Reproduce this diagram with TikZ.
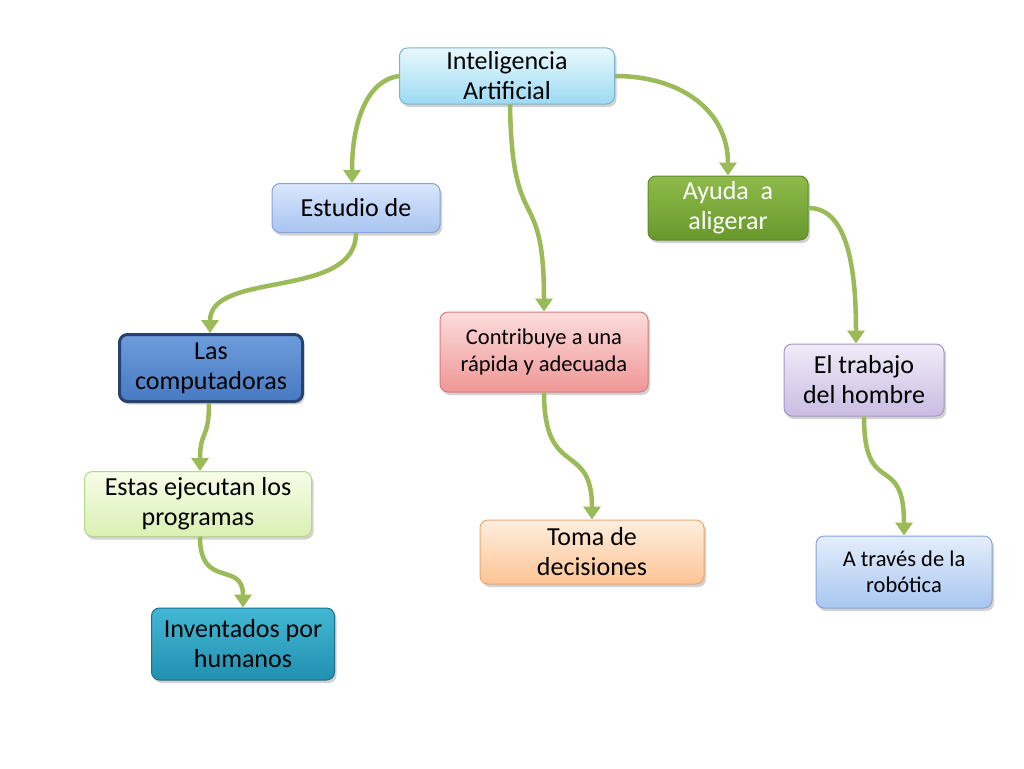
\documentclass[tikz,border=0pt]{standalone}
\usepackage{fontspec}
\setmainfont{Carlito}
\usetikzlibrary{arrows.meta,shadows}
\definecolor{conn}{HTML}{9BBB59}
\begin{document}
\begin{tikzpicture}[x=1pt,y=-1pt,
  box/.style={rounded corners=8pt, draw, line width=1pt, align=center, inner sep=0pt,
    drop shadow={opacity=0.35, shadow xshift=2pt, shadow yshift=-3pt},
    font=\fontsize{26}{30}\selectfont},
  smalltext/.style={font=\fontsize{22.5}{26.5}\selectfont},
  link/.style={draw=conn, line width=4.5pt, -{Triangle[width=17pt,length=13pt]}, fill=none}
]
\fill[white] (0,0) rectangle (1024,768);
\useasboundingbox (0,0) rectangle (1024,768);

\node[box, minimum width=215pt, minimum height=56pt, top color={rgb,255:red,232;green,249;blue,254}, bottom color={rgb,255:red,156;green,218;blue,244}, draw={rgb,255:red,120;green,180;blue,205}] (ia) at (507,76) {Inteligencia\\Artificial};

\node[box, minimum width=168pt, minimum height=49pt, top color={rgb,255:red,218;green,230;blue,252}, bottom color={rgb,255:red,168;green,196;blue,242}, draw={rgb,255:red,135;green,165;blue,215}] (est) at (356,208) {Estudio de};

\node[box, minimum width=160pt, minimum height=64pt, top color={rgb,255:red,142;green,186;blue,74}, bottom color={rgb,255:red,104;green,152;blue,44}, draw={rgb,255:red,94;green,138;blue,40}, text=white] (ayu) at (728,208) {Ayuda\ \ a\\aligerar};

\node[box, smalltext, minimum width=208pt, minimum height=80pt, top color={rgb,255:red,252;green,220;blue,220}, bottom color={rgb,255:red,240;green,150;blue,150}, draw={rgb,255:red,215;green,125;blue,125}] (con) at (544,352) {Contribuye a una\\rápida y adecuada};

\node[box, minimum width=183pt, minimum height=67pt, top color={rgb,255:red,108;green,156;blue,218}, bottom color={rgb,255:red,72;green,122;blue,194}, draw={rgb,255:red,40;green,66;blue,112}, line width=3pt] (com) at (211,368) {Las\\computadoras};

\node[box, minimum width=160pt, minimum height=72pt, top color={rgb,255:red,240;green,235;blue,248}, bottom color={rgb,255:red,202;green,188;blue,226}, draw={rgb,255:red,165;green,150;blue,200}] (tra) at (864,380) {El trabajo\\del hombre};

\node[box, minimum width=227pt, minimum height=65pt, top color={rgb,255:red,247;green,252;blue,232}, bottom color={rgb,255:red,218;green,240;blue,178}, draw={rgb,255:red,182;green,214;blue,142}] (est2) at (198,504) {Estas ejecutan los\\programas};

\node[box, minimum width=224pt, minimum height=64pt, top color={rgb,255:red,255;green,238;blue,222}, bottom color={rgb,255:red,253;green,196;blue,148}, draw={rgb,255:red,232;green,168;blue,112}] (tom) at (592,552) {Toma de\\decisiones};

\node[box, smalltext, minimum width=176pt, minimum height=72pt, top color={rgb,255:red,228;green,238;blue,252}, bottom color={rgb,255:red,168;green,198;blue,240}, draw={rgb,255:red,135;green,165;blue,215}] (rob) at (904,572) {A través de la\\robótica};

\node[box, minimum width=183pt, minimum height=72pt, top color={rgb,255:red,66;green,184;blue,212}, bottom color={rgb,255:red,34;green,144;blue,176}, draw={rgb,255:red,30;green,110;blue,140}] (inv) at (243,644) {Inventados por\\humanos};

\path[link] (ia.west) .. controls (368,80) and (352,120) .. ([xshift=-4pt]est.north);
\path[link] ([xshift=3pt]ia.south) .. controls (512,240) and (544,180) .. (con.north);
\path[link] (ia.east) .. controls (680,76) and (728,110) .. (ayu.north);
\path[link] (est.south) .. controls (356,300) and (210,270) .. ([xshift=-1pt]com.north);
\path[link] ([xshift=-2pt]com.south) .. controls (209,440) and (200,430) .. ([xshift=2pt]est2.north);
\path[link] ([xshift=2pt]est2.south) .. controls (200,590) and (243,560) .. (inv.north);
\path[link] (con.south) .. controls (544,480) and (592,440) .. (tom.north);
\path[link] (ayu.east) .. controls (845,208) and (856,260) .. ([xshift=-8pt]tra.north);
\path[link] (tra.south) .. controls (864,500) and (904,450) .. (rob.north);
\end{tikzpicture}
\end{document}
